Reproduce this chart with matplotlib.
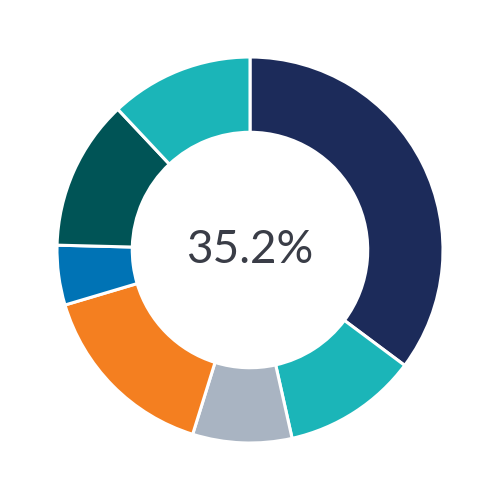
import matplotlib
matplotlib.use("Agg")
import matplotlib.pyplot as plt

# Segments, clockwise from 12 o'clock
labels = ["Navy", "Teal A", "Gray", "Orange", "Blue", "Dark green", "Teal B"]
values = [35.2, 11.3, 8.3, 15.6, 5.0, 12.6, 12.0]
colors = ["#1c2b5a", "#1bb5b8", "#a9b4c2", "#f47f20", "#0073b5", "#005456", "#1bb5b8"]
center_text = "35.2%"

fig = plt.figure(figsize=(5, 5), dpi=100)
ax = fig.add_axes([0, 0, 1, 1])
ax.pie(values, colors=colors, startangle=90, counterclock=False,
       radius=1.0,
       wedgeprops=dict(width=0.39, edgecolor="white", linewidth=2.2))
ax.text(0, 0, center_text, ha="center", va="center", fontsize=33,
        family=["Lato", "DejaVu Sans"], fontweight="normal", color="#3a3d47")
lim = 250 / 193
ax.set_xlim(-lim, lim)
ax.set_ylim(-lim, lim)
ax.set_aspect("equal")
ax.axis("off")
fig.savefig("out.png", dpi=100, facecolor="white")
